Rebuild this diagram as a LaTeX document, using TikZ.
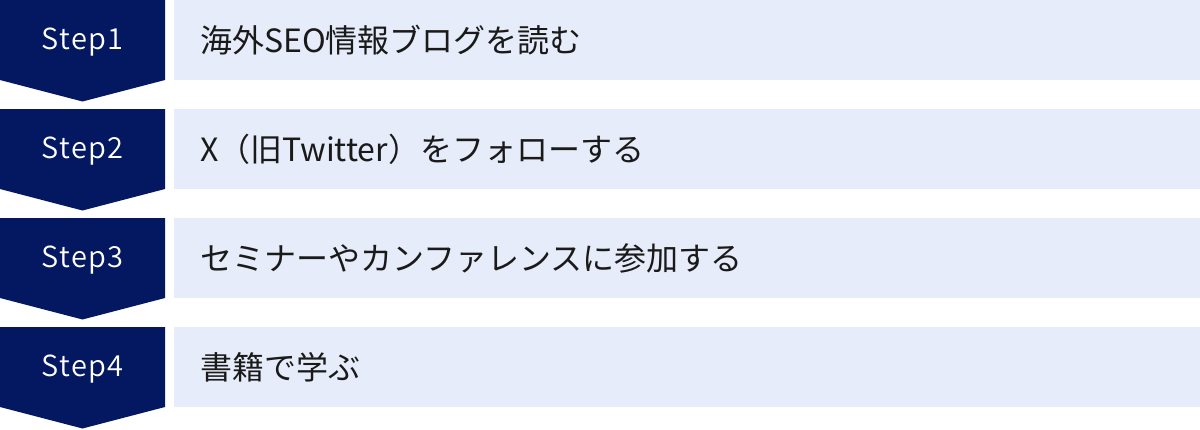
\documentclass[tikz,border=0pt]{standalone}
\usepackage{fontspec}
\setmainfont{Noto Sans CJK JP}
\newfontfamily\stepfont[LetterSpace=5]{Noto Sans CJK JP DemiLight}
\definecolor{navy}{HTML}{041862}
\definecolor{lightbox}{HTML}{E6ECF9}
\definecolor{txt}{HTML}{1A1A1A}
\begin{document}
\begin{tikzpicture}[x=1pt,y=-1pt,
  stepshape/.style={fill=navy},
  bar/.style={fill=lightbox},
  steplabel/.style={text=white,font=\stepfont\fontsize{29}{32}\selectfont,anchor=center,inner sep=0pt},
  itemlabel/.style={text=txt,font=\fontsize{32}{36}\selectfont,anchor=west,inner sep=0pt}]
\useasboundingbox (0,0) rectangle (1200,429);
\foreach \i/\t in {0/{海外SEO情報ブログを読む},1/{X（旧Twitter）をフォローする},2/{セミナーやカンファレンスに参加する},3/{書籍で学ぶ}}{
  \pgfmathsetmacro\y{\i*109}
  \fill[stepshape] (0,\y) -- (165,\y) -- (165,\y+80) -- (82.5,\y+101.5) -- (0,\y+80) -- cycle;
  \fill[bar] (174,\y) rectangle (1200,\y+80);
  \pgfmathtruncatemacro\n{\i+1}
  \node[steplabel] (s\n) at (82.5,\y+42) {Step\n};
  \node[itemlabel] (t\n) at (200,\y+40) {\t};
}
\end{tikzpicture}
\end{document}
